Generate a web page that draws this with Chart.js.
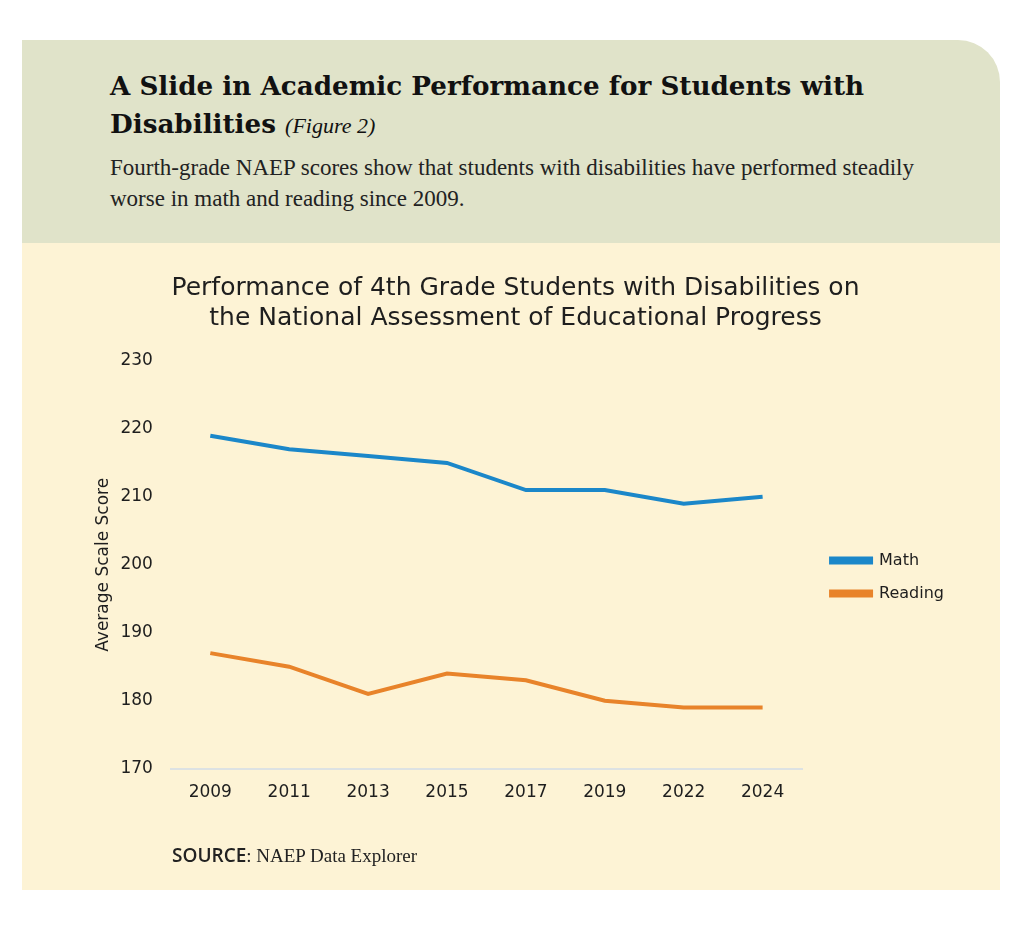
<!DOCTYPE html>
<html>
<head>
<meta charset="utf-8">
<script src="https://cdn.jsdelivr.net/npm/chart.js@4.4.0/dist/chart.umd.min.js"></script>
<style>
  html, body { margin: 0; padding: 0; background: #ffffff; }
  body { width: 1024px; height: 931px; position: relative; overflow: hidden; }
  #header {
    position: absolute; left: 22px; top: 40px; width: 978px; height: 203px;
    background: #e0e3c9; border-top-right-radius: 42px;
  }
  #panel {
    position: absolute; left: 22px; top: 243px; width: 978px; height: 647px;
    background: #fdf3d5;
  }
  #title {
    position: absolute; left: 110px; top: 67px; margin: 0;
    font-family: "DejaVu Serif", serif; font-weight: bold; font-size: 26.2px;
    line-height: 38px; color: #111;
  }
  #title i { font-family: "Liberation Serif", serif; font-weight: normal; font-size: 22px; }
  #intro {
    position: absolute; left: 110px; top: 152px; margin: 0;
    font-family: "Liberation Serif", serif; font-size: 23px; line-height: 31px; color: #222;
  }
  #chartbox { position: absolute; left: 22px; top: 243px; width: 978px; height: 600px; }
  #source {
    position: absolute; left: 172px; top: 842px;
    font-family: "Liberation Serif", serif; font-size: 19px; color: #222;
  }
  #source b { font-family: "Open Sans", sans-serif; font-weight: 600; font-size: 19px; }
</style>
</head>
<body>
<div id="header"></div>
<div id="panel"></div>
<h1 id="title">A Slide in Academic Performance for Students with<br>Disabilities <i>(Figure 2)</i></h1>
<p id="intro">Fourth-grade NAEP scores show that students with disabilities have performed steadily<br>worse in math and reading since 2009.</p>
<div id="chartbox"><canvas id="grafico"></canvas></div>
<div id="source"><b>SOURCE</b>: NAEP Data Explorer</div>

<script>
// dados
const anos = ['2009', '2011', '2013', '2015', '2017', '2019', '2022', '2024'];
const math = [219, 217, 216, 215, 211, 211, 209, 210];
const reading = [187, 185, 181, 184, 183, 180, 179, 179];
const yTicks = [170, 180, 190, 200, 210, 220, 230];

const fonte = "'DejaVu Sans', sans-serif";
const corTexto = '#1e1e1e';

// empurra a legenda para o lugar dela (dx, dy)
const moveLegenda = {
    id: 'moveLegenda',
    afterLayout(chart) {
        let l = chart.legend;
        l.left += 12; l.right += 12;
        l.top += 37; l.bottom += 37;
    }
};

let context = document.getElementById('grafico').getContext('2d');

let settings = {
    responsive: true,
    maintainAspectRatio: false,
    animation: false,
    layout: {
        padding: { left: 67, right: 58, top: 20, bottom: 26 }
    },
    plugins: {
        title: {
            display: true,
            text: ['Performance of 4th Grade Students with Disabilities on',
                   'the National Assessment of Educational Progress'],
            color: corTexto,
            font: { family: fonte, size: 25, weight: 'normal', lineHeight: 1.2 },
            padding: { top: 10, bottom: 28 }
        },
        legend: {
            position: 'right',
            labels: {
                color: corTexto,
                font: { family: fonte, size: 16 },
                boxWidth: 40,
                boxHeight: 4,
                padding: 17
            }
        },
        tooltip: { enabled: false }
    },
    scales: {
        x: {
            offset: true,
            grid: { display: false, drawTicks: false },
            border: { display: true, color: '#dde2e3', width: 2 },
            ticks: { color: corTexto, font: { family: fonte, size: 17 }, padding: 14 }
        },
        y: {
            min: yTicks[0],
            max: yTicks[yTicks.length - 1],
            afterBuildTicks: function (axis) {
                axis.ticks = yTicks.map(v => ({ value: v }));
            },
            grid: { display: false, drawTicks: false },
            border: { display: false },
            ticks: { color: corTexto, font: { family: fonte, size: 17 }, padding: 18 },
            title: {
                display: true,
                text: 'Average Scale Score',
                color: corTexto,
                font: { family: fonte, size: 17 },
                padding: { top: 4, bottom: -11 }
            }
        }
    }
};

let dados = {
    labels: anos,
    datasets: [
        {
            label: 'Math',
            data: math,
            borderColor: '#1b87c9',
            backgroundColor: '#1b87c9',
            borderWidth: 4,
            pointRadius: 0,
            tension: 0
        },
        {
            label: 'Reading',
            data: reading,
            borderColor: '#e8832a',
            backgroundColor: '#e8832a',
            borderWidth: 4,
            pointRadius: 0,
            tension: 0
        }
    ]
};

let grafico = new Chart(context, { type: 'line', options: settings, data: dados, plugins: [moveLegenda] });
</script>
</body>
</html>
